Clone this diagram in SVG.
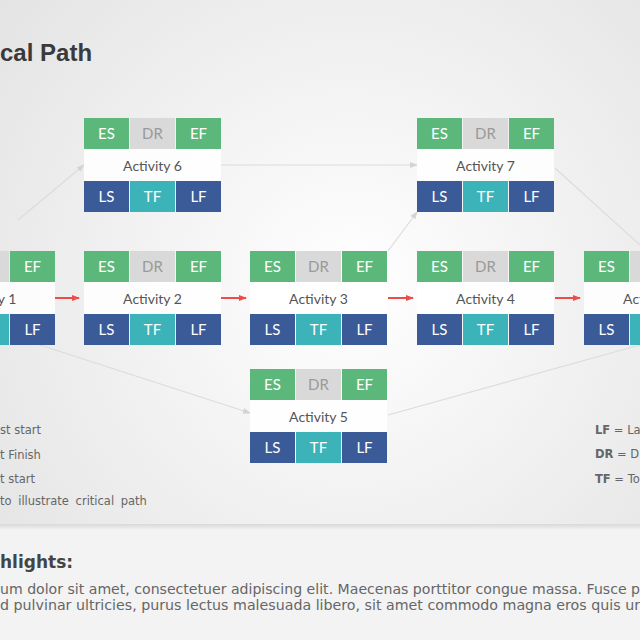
<svg xmlns="http://www.w3.org/2000/svg" width="640" height="640" viewBox="0 0 640 640">
<defs>
<radialGradient id="bg" cx="0.55" cy="0.45" r="0.7">
<stop offset="0" stop-color="#ffffff"/><stop offset="1" stop-color="#e4e4e4"/>
</radialGradient>
<linearGradient id="sh" x1="0" y1="0" x2="0" y2="1"><stop offset="0" stop-color="#d8d8d8"/><stop offset="1" stop-color="#f3f3f3"/></linearGradient>
<marker id="ar" markerWidth="8" markerHeight="8" refX="7" refY="4" orient="auto" markerUnits="userSpaceOnUse"><path d="M0,1 L8,4 L0,7 z" fill="#ee4b4b"/></marker>
<marker id="ag" markerWidth="8" markerHeight="8" refX="7" refY="4" orient="auto" markerUnits="userSpaceOnUse"><path d="M0,1 L8,4 L0,7 z" fill="#d4d4d4"/></marker>
<g id="node">
<rect x="0" y="31" width="137" height="32" fill="#ffffff" opacity="0.85"/>
<rect x="0" y="0" width="45" height="31" fill="#5cb87a"/>
<rect x="46" y="0" width="45" height="31" fill="#d9d9d9"/>
<rect x="92" y="0" width="45" height="31" fill="#5cb87a"/>
<rect x="0" y="63" width="45" height="31" fill="#3a5a98"/>
<rect x="46" y="63" width="45" height="31" fill="#3bb3b8"/>
<rect x="92" y="63" width="45" height="31" fill="#3a5a98"/>
<text x="22.5" y="21" class="c">ES</text><text x="68.5" y="21" class="c g">DR</text><text x="114.5" y="21" class="c">EF</text>
<text x="22.5" y="84" class="c">LS</text><text x="68.5" y="84" class="c">TF</text><text x="114.5" y="84" class="c">LF</text>
</g>
</defs>
<style>
text{font-family:Lato,"Open Sans","Liberation Sans",sans-serif}
.c{fill:#fff;font-size:15px;text-anchor:middle}
.g{fill:#9a9a9a}
.lb{fill:#555;font-size:14px;text-anchor:middle}
.lg{fill:#666;font-size:11.5px;font-family:"DejaVu Sans",sans-serif}
.red{stroke:#ee4b4b;stroke-width:2;fill:none;marker-end:url(#ar)}
.gr{stroke:#dcdcdc;stroke-width:1.2;fill:none}
</style>
<rect width="640" height="640" fill="url(#bg)"/>
<rect y="524" width="640" height="116" fill="#f3f3f3"/>
<rect y="524" width="640" height="6" fill="url(#sh)"/>
<text x="0" y="61" font-size="24" font-weight="bold" fill="#3a3a3a" style="font-family:'Liberation Sans',sans-serif">cal Path</text>
<g id="connectors">
<line class="gr" x1="18" y1="220" x2="84" y2="165" marker-end="url(#ag)"/>
<line class="gr" x1="221" y1="165" x2="417" y2="165" marker-end="url(#ag)"/>
<line class="gr" x1="388" y1="251" x2="417" y2="212" marker-end="url(#ag)"/>
<line class="gr" x1="555" y1="168" x2="640" y2="245"/>
<line class="gr" x1="40" y1="345" x2="250" y2="413" marker-end="url(#ag)"/>
<line class="gr" x1="388" y1="415" x2="640" y2="345"/>
<line class="red" x1="55" y1="298" x2="79" y2="298"/>
<line class="red" x1="221" y1="298" x2="246" y2="298"/>
<line class="red" x1="388" y1="298" x2="413" y2="298"/>
<line class="red" x1="555" y1="298" x2="580" y2="298"/>
</g>
<g id="n1"><use href="#node" x="-82" y="251"/><text class="lb" x="-13" y="304">Activity 1</text></g>
<g id="n2"><use href="#node" x="84" y="251"/><text class="lb" x="152.5" y="304">Activity 2</text></g>
<g id="n3"><use href="#node" x="250" y="251"/><text class="lb" x="318.5" y="304">Activity 3</text></g>
<g id="n4"><use href="#node" x="417" y="251"/><text class="lb" x="485.5" y="304">Activity 4</text></g>
<g id="n8"><use href="#node" x="584" y="251"/><text class="lb" x="652.5" y="304">Activity 8</text></g>
<g id="n6"><use href="#node" x="84" y="118"/><text class="lb" x="152.5" y="171">Activity 6</text></g>
<g id="n7"><use href="#node" x="417" y="118"/><text class="lb" x="485.5" y="171">Activity 7</text></g>
<g id="n5"><use href="#node" x="250" y="369"/><text class="lb" x="318.5" y="422">Activity 5</text></g>
<g id="legend">
<text class="lg" x="0" y="434">st start</text>
<text class="lg" x="0" y="459">t Finish</text>
<text class="lg" x="0" y="483">t start</text>
<text class="lg" x="0" y="505" word-spacing="3">to illustrate critical path</text>
<text class="lg" x="595" y="434"><tspan font-weight="bold">LF</tspan> = La</text>
<text class="lg" x="595" y="458"><tspan font-weight="bold">DR</tspan> = D</text>
<text class="lg" x="595" y="483"><tspan font-weight="bold">TF</tspan> = To</text>
</g>
<text x="0" y="568" font-size="17" font-weight="bold" fill="#444" style="font-family:'DejaVu Sans',sans-serif">hlights:</text>
<text x="0" y="594" font-size="13.5" fill="#666" style="font-family:'DejaVu Sans',sans-serif" textLength="640" lengthAdjust="spacingAndGlyphs">um dolor sit amet, consectetuer adipiscing elit. Maecenas porttitor congue massa. Fusce p</text>
<text x="0" y="610" font-size="13.5" fill="#666" style="font-family:'DejaVu Sans',sans-serif" textLength="640" lengthAdjust="spacingAndGlyphs">d pulvinar ultricies, purus lectus malesuada libero, sit amet commodo magna eros quis ur</text>
</svg>
